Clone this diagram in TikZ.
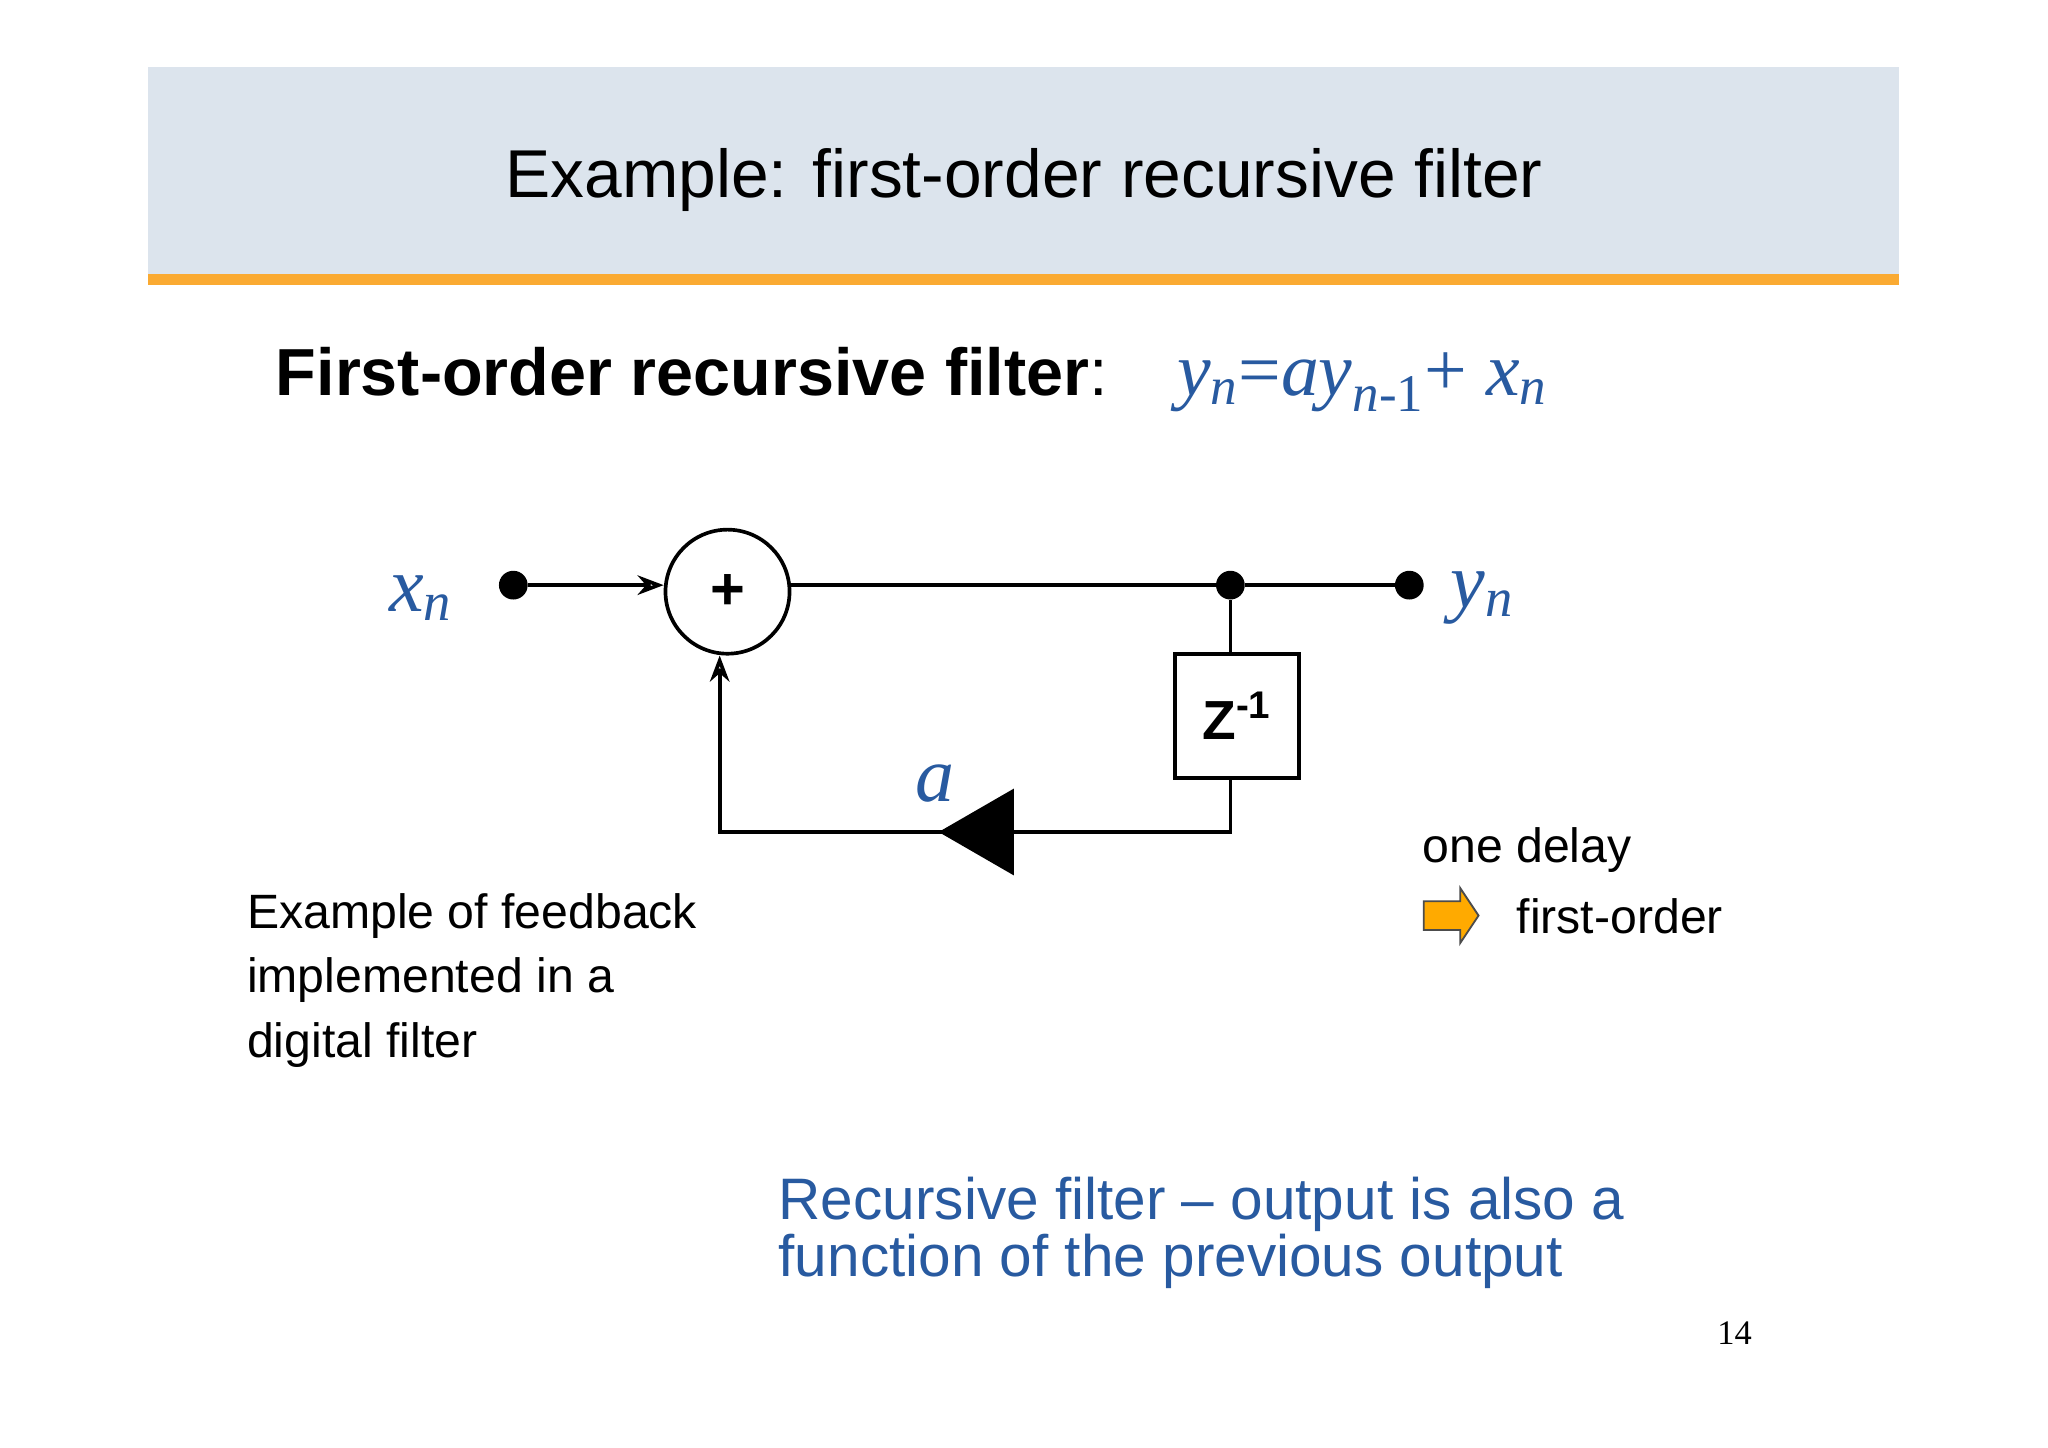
\documentclass[tikz,border=0pt]{standalone}
\usepackage{fontspec}
\setmainfont{Liberation Sans}
\newfontfamily\seriffont{Liberation Serif}
\usetikzlibrary{shapes.geometric,arrows.meta}
\definecolor{headbg}{RGB}{220,228,237}
\definecolor{headline}{RGB}{250,170,50}
\definecolor{eqblue}{RGB}{40,90,160}
\definecolor{arrorange}{RGB}{255,170,0}
\begin{document}
\begin{tikzpicture}[x=0.02cm,y=-0.02cm,
  dot/.style={circle,fill=black,inner sep=0pt,minimum size=0.44cm},
  sig/.style={line width=1.6pt},
  sigarr/.style={sig,-{Stealth[length=0.4cm,width=0.3cm,open]}},
  var/.style={text=eqblue,font=\seriffont\itshape\fontsize{34}{40}\selectfont},
  body/.style={font=\fontsize{21}{28}\selectfont,align=left}]
\useasboundingbox (0,0) rectangle (1568,1108);
% header
\fill[headbg] (113,51) rectangle (1454,212);
\fill[headline] (113,210) rectangle (1454,218);
\node[font=\fontsize{29.5}{34}\selectfont] (title) at (784,138) {Example: first-order recursive filter};
% subtitle and equation
\node[anchor=base west,font=\fontsize{29}{34}\selectfont] (sub) at (205,303) {\textbf{First-order recursive filter}:};
\node[anchor=base west,text=eqblue,font=\seriffont\fontsize{33}{40}\selectfont] (eq) at (895,303)
  {\textit{y}\textsubscript{\textit{n}}=\textit{ay}\textsubscript{\textit{n}-1}+ \textit{x}\textsubscript{\textit{n}}};
% diagram
\node[dot] (in) at (393,448) {};
\node[circle,draw,line width=1.6pt,minimum size=1.9cm,font=\bfseries\fontsize{26}{26}\selectfont] (sum) at (557,453) {+};
\node[dot] (br) at (942,448) {};
\node[dot] (out) at (1079,448) {};
\node[draw,line width=1.6pt,minimum size=1.9cm,font=\bfseries\fontsize{24}{24}\selectfont] (z) at (947,548) {Z\textsuperscript{-1}};
\coordinate (c1) at (942,637);
\coordinate (c2) at (551,637);
\node[isosceles triangle,isosceles triangle apex angle=60,shape border rotate=180,fill=black,minimum height=1.15cm,inner sep=0pt] (gain) at (757,637) {};
\node[var] (xn) at (322,458) {x\textsubscript{n}};
\node[var] (yn) at (1135,458) {y\textsubscript{n}};
\node[var] (a) at (716,600) {a};
\draw[sigarr] (in) -- (sum.west |- in);
\draw[sig] (sum.east |- br) -- (br) -- (out);
\draw[sig] (br) -- (br |- z.north);
\draw[sig] (br |- z.south) -- (c1) -- (gain.west);
\draw[sigarr] (gain.west) -- (c2) -- (c2 |- sum.south);
% notes
\node[body,anchor=base west] (delay) at (1083,660) {one delay};
\draw[draw=black!70,fill=arrorange,line width=0.8pt] (1090,690) -- (1118,690) -- (1118,680) -- (1132,701)
  -- (1118,722) -- (1118,712) -- (1090,712) -- cycle;
\node[body,anchor=base west] (fo) at (1155,715) {first-order};
\node[body,anchor=north west] (fb) at (183,678) {Example of feedback\\implemented in a\\digital filter};
\node[anchor=north west,align=left,text=eqblue,font=\fontsize{25.5}{22}\selectfont] (rec) at (590,895)
  {Recursive filter -- output is also a\\function of the previous output};
\node[font=\seriffont\fontsize{15}{15}\selectfont] (pg) at (1328,1021) {14};
\end{tikzpicture}
\end{document}
